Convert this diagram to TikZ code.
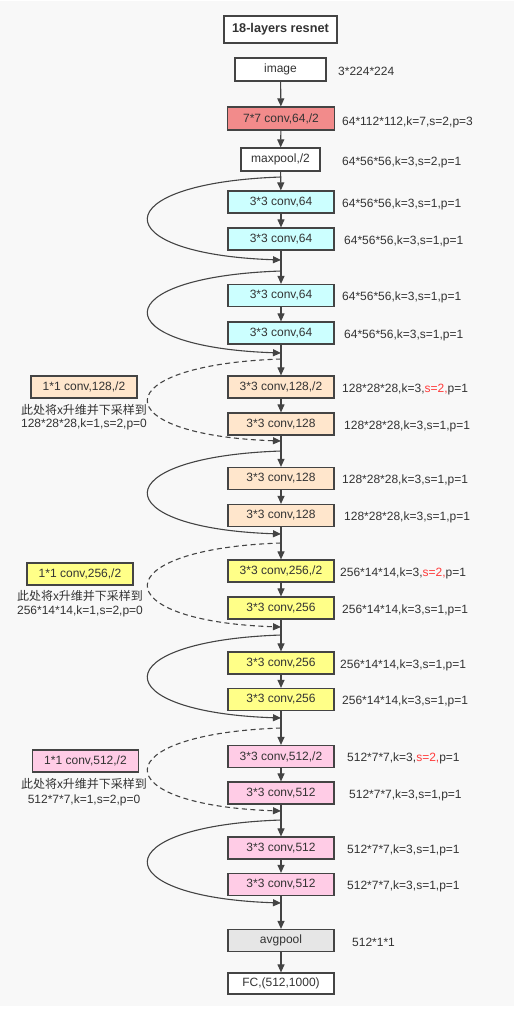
\documentclass[tikz,border=0pt]{standalone}
\usepackage{fontspec}
\setmainfont{Liberation Sans}
\newfontfamily\cjk{Noto Sans CJK SC}
\usetikzlibrary{arrows.meta,calc}
\definecolor{bg}{HTML}{F8F8F8}
\definecolor{ln}{HTML}{444444}
\definecolor{tx}{HTML}{333333}
\definecolor{c0}{HTML}{CCFFFF}
\definecolor{c1}{HTML}{FFE6CC}
\definecolor{c2}{HTML}{FFFF88}
\definecolor{c3}{HTML}{FFCCE6}
\definecolor{c4}{HTML}{F28B8B}
\definecolor{c5}{HTML}{E6E6E6}
\definecolor{sred}{HTML}{FF3B3B}
\tikzset{%
  layer/.style={draw=ln,line width=1.2pt,fill=#1,minimum width=106pt,minimum height=22pt,
    inner sep=0pt,text=tx,font=\fontsize{12}{14}\selectfont},
  layer/.default=white,
  info/.style={anchor=west,inner sep=0pt,text=tx,font=\fontsize{12}{14}\selectfont},
  note/.style={inner sep=0pt,text=tx,font=\fontsize{12}{14}\selectfont},
  arr/.style={draw=ln,line width=1.1pt,-{Triangle[length=8pt,width=7pt]}},
  skipdash/.style={dash pattern=on 5pt off 3.5pt}
}
\NewDocumentCommand\skipcurve{O{}mm}{%
  \draw[arr,#1] (#2) .. controls ($(#2)+(-177,6)$) and ($(#3)+(-177,-6)$) .. (#3);
}

\begin{document}
\begin{tikzpicture}[x=1pt,y=-1pt]
  \fill[white] (0,0) rectangle (521,1015);
  \fill[bg] (0,1) rectangle (514,1006);
  \useasboundingbox (0,0) rectangle (521,1015);
  %
  \node[layer,minimum width=113pt,minimum height=27pt,font=\fontsize{12.7}{14}\selectfont\bfseries] (title) at (280.5,29.5) {18-layers resnet};
  \node[layer,minimum width=91pt,minimum height=23pt] (img) at (280.5,69.5) {image};
  \node[layer=c4,minimum width=107pt,minimum height=23pt] (c7) at (281,118.5) {7*7 conv,64,/2};
  \node[layer,minimum width=79pt,minimum height=23pt] (pool) at (280.5,159.5) {maxpool,/2};
  %
  \node[layer=c0] (r64a) at (281,202) {3*3 conv,64};
  \node[layer=c0] (r64b) at (281,239) {3*3 conv,64};
  \node[layer=c0] (r64c) at (281,295.5) {3*3 conv,64};
  \node[layer=c0] (r64d) at (281,333) {3*3 conv,64};
  %
  \node[layer=c1] (r128a) at (281,387) {3*3 conv,128,/2};
  \node[layer=c1] (r128b) at (281,424) {3*3 conv,128};
  \node[layer=c1] (r128c) at (281,478.5) {3*3 conv,128};
  \node[layer=c1] (r128d) at (281,515.5) {3*3 conv,128};
  %
  \node[layer=c2] (r256a) at (281,571) {3*3 conv,256,/2};
  \node[layer=c2] (r256b) at (281,608) {3*3 conv,256};
  \node[layer=c2] (r256c) at (281,663) {3*3 conv,256};
  \node[layer=c2] (r256d) at (281,699.5) {3*3 conv,256};
  %
  \node[layer=c3] (r512a) at (281,756.5) {3*3 conv,512,/2};
  \node[layer=c3] (r512b) at (281,793) {3*3 conv,512};
  \node[layer=c3] (r512c) at (281,848) {3*3 conv,512};
  \node[layer=c3] (r512d) at (281,884.5) {3*3 conv,512};
  %
  \node[layer=c5] (avg) at (281,940.5) {avgpool};
  \node[layer,minimum height=21pt] (fc) at (281,983.5) {FC,(512,1000)};
  %% side branches
  \node[layer=c1] (d128) at (84,387) {1*1 conv,128,/2};
  \node[note] (d128t) at (84,410) {\cjk 此处将x升维并下采样到};
  \node[note] (d128s) at (84,424) {128*28*28,k=1,s=2,p=0};
  \node[layer=c2] (d256) at (80,574) {1*1 conv,256,/2};
  \node[note] (d256t) at (80,596) {\cjk 此处将x升维并下采样到};
  \node[note] (d256s) at (80,611) {256*14*14,k=1,s=2,p=0};
  \node[layer=c3] (d512) at (85.5,761) {1*1 conv,512,/2};
  \node[note] (d512t) at (84,784) {\cjk 此处将x升维并下采样到};
  \node[note] (d512s) at (84,800) {512*7*7,k=1,s=2,p=0};
  %% shapes
  \node[info] (simg) at (338,71) {3*224*224};
  \node[info] (sc7) at (342,122) {64*112*112,k=7,s=2,p=3};
  \node[info] (spool) at (342,162) {64*56*56,k=3,s=2,p=1};
  \node[info] (s64a) at (342,204) {64*56*56,k=3,s=1,p=1};
  \node[info] (s64b) at (344,241) {64*56*56,k=3,s=1,p=1};
  \node[info] (s64c) at (342,297.5) {64*56*56,k=3,s=1,p=1};
  \node[info] (s64d) at (344,335) {64*56*56,k=3,s=1,p=1};
  \node[info] (s128a) at (342,389) {128*28*28,k=3,\textcolor{sred}{s=2,}p=1};
  \node[info] (s128b) at (344,426) {128*28*28,k=3,s=1,p=1};
  \node[info] (s128c) at (342,480.5) {128*28*28,k=3,s=1,p=1};
  \node[info] (s128d) at (344,517.5) {128*28*28,k=3,s=1,p=1};
  \node[info] (s256a) at (340,573) {256*14*14,k=3,\textcolor{sred}{s=2,}p=1};
  \node[info] (s256b) at (342,610) {256*14*14,k=3,s=1,p=1};
  \node[info] (s256c) at (340,665) {256*14*14,k=3,s=1,p=1};
  \node[info] (s256d) at (342,701.5) {256*14*14,k=3,s=1,p=1};
  \node[info] (s512a) at (347,758.5) {512*7*7,k=3,\textcolor{sred}{s=2,}p=1};
  \node[info] (s512b) at (349,795) {512*7*7,k=3,s=1,p=1};
  \node[info] (s512c) at (347,850) {512*7*7,k=3,s=1,p=1};
  \node[info] (s512d) at (347,886.5) {512*7*7,k=3,s=1,p=1};
  \node[info] (savg) at (352,942.5) {512*1*1};
  %% main path
  \draw[arr] (img) -- (c7);
  \draw[arr] (c7) -- (pool);
  \draw[arr] (pool) -- (r64a);
  \draw[arr] (r64a) -- (r64b);
  \draw[arr] (r64b) -- (r64c);
  \draw[arr] (r64c) -- (r64d);
  \draw[arr] (r64d) -- (r128a);
  \draw[arr] (r128a) -- (r128b);
  \draw[arr] (r128b) -- (r128c);
  \draw[arr] (r128c) -- (r128d);
  \draw[arr] (r128d) -- (r256a);
  \draw[arr] (r256a) -- (r256b);
  \draw[arr] (r256b) -- (r256c);
  \draw[arr] (r256c) -- (r256d);
  \draw[arr] (r256d) -- (r512a);
  \draw[arr] (r512a) -- (r512b);
  \draw[arr] (r512b) -- (r512c);
  \draw[arr] (r512c) -- (r512d);
  \draw[arr] (r512d) -- (avg);
  \draw[arr] (avg) -- (fc);
  %% shortcuts
  \coordinate (s1) at (281,177);  \coordinate (m1) at (281,260);
  \coordinate (s2) at (281,271);  \coordinate (m2) at (281,353);
  \coordinate (s3) at (281,359);  \coordinate (m3) at (281,441);
  \coordinate (s4) at (281,451);  \coordinate (m4) at (281,534);
  \coordinate (s5) at (281,543);  \coordinate (m5) at (281,627);
  \coordinate (s6) at (281,635);  \coordinate (m6) at (281,718);
  \coordinate (s7) at (281,728);  \coordinate (m7) at (281,811);
  \coordinate (s8) at (281,820);  \coordinate (m8) at (281,903);
  \skipcurve{s1}{m1}
  \skipcurve{s2}{m2}
  \skipcurve[skipdash]{s3}{m3}
  \skipcurve{s4}{m4}
  \skipcurve[skipdash]{s5}{m5}
  \skipcurve{s6}{m6}
  \skipcurve[skipdash]{s7}{m7}
  \skipcurve{s8}{m8}
  %%
\end{tikzpicture}
\end{document}
